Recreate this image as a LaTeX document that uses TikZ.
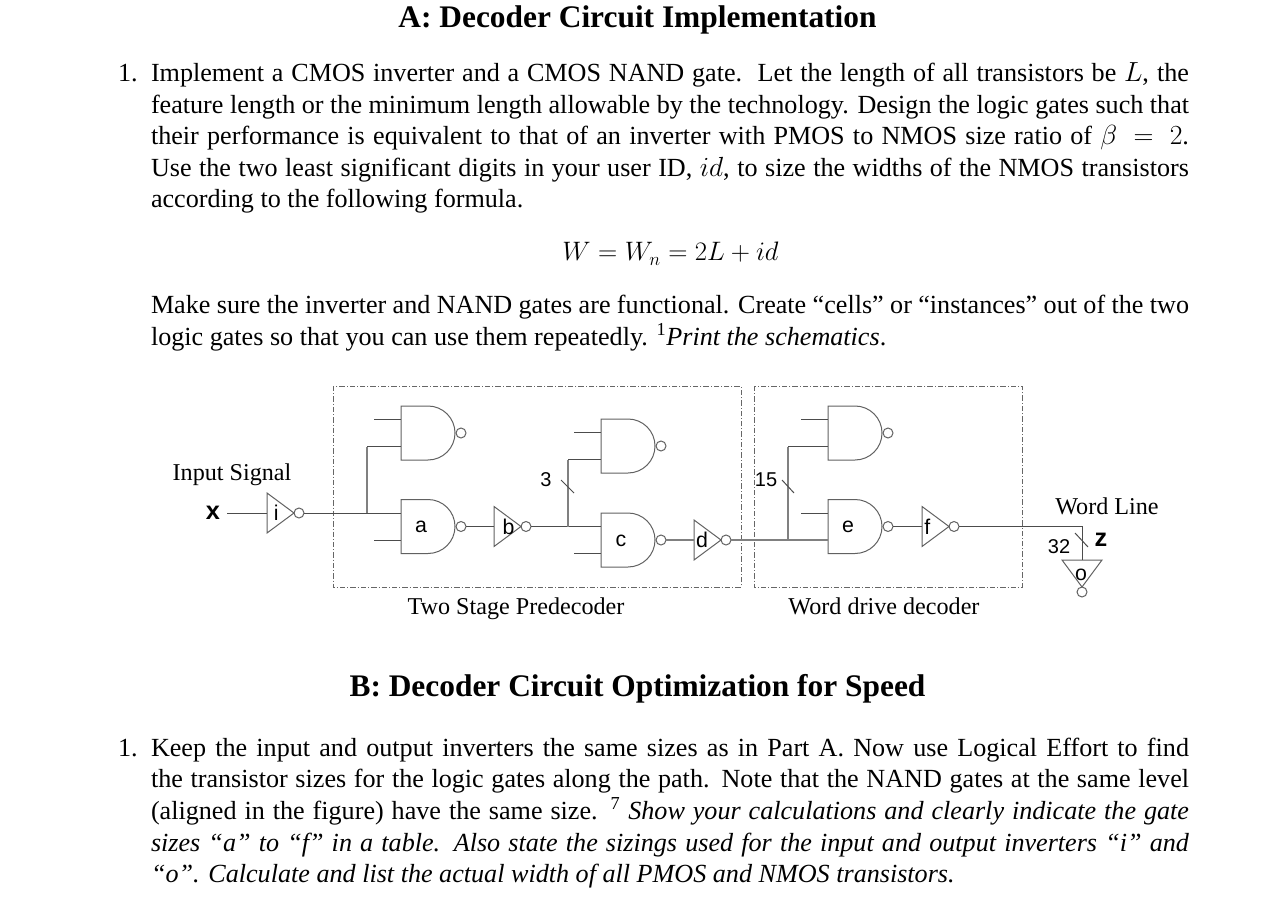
\documentclass[tikz,border=0pt]{standalone}
\usepackage{graphicx}
\usepackage{fontspec}
\setmainfont{Liberation Serif}
\newfontfamily\lsans{Liberation Sans}
\newcommand{\bodysz}{\fontsize{19.6pt}{23pt}\selectfont}
\newcommand{\jl}[1]{\makebox[778.5pt][s]{#1}}
\newcommand{\nandgate}[3]{%
  \begin{scope}[shift={(#2,#3)}]
    \draw[gateline] (0,0) -- (27,0) .. controls (41.9,0) and (54,12.1) .. (54,27)
      .. controls (54,41.9) and (41.9,54) .. (27,54) -- (0,54) -- cycle;
    \draw[gateline] (60,27) circle (5);
    \coordinate (#1-a) at (0,13.5);
    \coordinate (#1-b) at (0,40.5);
    \coordinate (#1-sa) at (-27,13.5);
    \coordinate (#1-sb) at (-27,40.5);
    \coordinate (#1-o) at (65,27);
    \coordinate (#1-c) at (20,27.5);
  \end{scope}}
\newcommand{\invgate}[3]{%
  \begin{scope}[shift={(#2,#3)}]
    \draw[gateline] (0,-20) -- (27,0) -- (0,20) -- cycle;
    \draw[gateline] (32,0) circle (5);
    \coordinate (#1-i) at (0,0);
    \coordinate (#1-o) at (37,0);
    \coordinate (#1-c) at (8,0);
  \end{scope}}
\tikzset{
  x=0.75pt,y=-0.75pt,
  gateline/.style={draw=black!62,line width=0.75pt},
  wire/.style={draw=black!70,line width=0.75pt},
  busw/.style={draw=black!50,line width=1.1pt},
  framebox/.style={draw=black!60,line width=0.7pt,dash pattern=on 4pt off 1.5pt on 0.8pt off 1.5pt},
  textline/.style={anchor=base west,inner sep=0pt,outer sep=0pt,font=\bodysz},
  titlet/.style={anchor=base,inner sep=0pt,font=\fontsize{23.55pt}{28pt}\selectfont\bfseries},
  label/.style={anchor=base,inner sep=0pt,font=\fontsize{18.1pt}{20pt}\selectfont},
  sanslbl/.style={inner sep=0pt,font=\fontsize{15pt}{17pt}\selectfont\lsans},
  gatelbl/.style={inner sep=0pt,font=\fontsize{16pt}{18pt}\selectfont\lsans},
  boldlbl/.style={inner sep=0pt,font=\fontsize{19pt}{21pt}\selectfont\lsans\bfseries},
}
\begin{document}
\begin{tikzpicture}
\useasboundingbox (0,0) rectangle (1267,909);
% ---- text ----
\node[titlet] (t1) at (637.5,27.5) {A: Decoder Circuit Implementation};
\node[textline] (n1) at (118,82) {1.};
\node[textline] (l1) at (151,82) {\jl{Implement a CMOS inverter and a CMOS NAND gate.\ \ Let the length of all transistors be $L$, the}};
\node[textline] (l2) at (151,113.5) {\jl{feature length or the minimum length allowable by the technology. Design the logic gates such that}};
\node[textline] (l3) at (151,145) {\jl{their performance is equivalent to that of an inverter with PMOS to NMOS size ratio of $\beta\,=\,2$.}};
\node[textline] (l4) at (151,176.5) {\jl{Use the two least significant digits in your user ID, $id$, to size the widths of the NMOS transistors}};
\node[textline] (l5) at (151,208) {according to the following formula.};
\node[textline,anchor=base] (eq) at (670.5,261) {\scalebox{0.965}{$W = W_n = 2L + id$}};
\node[textline] (l6) at (151,314) {\jl{Make sure the inverter and NAND gates are functional. Create “cells” or “instances” out of the two}};
\node[textline] (l7) at (151,345.5) {logic gates so that you can use them repeatedly. \textsuperscript{1}\textit{Print the schematics}.};
\node[titlet] (t2) at (637.5,696.5) {B: Decoder Circuit Optimization for Speed};
\node[textline] (n2) at (118,756) {1.};
\node[textline] (m1) at (151,756) {\jl{Keep the input and output inverters the same sizes as in Part A. Now use Logical Effort to find}};
\node[textline] (m2) at (151,787.5) {\jl{the transistor sizes for the logic gates along the path. Note that the NAND gates at the same level}};
\node[textline] (m3) at (151,819.5) {\jl{(aligned in the figure) have the same size. \textsuperscript{7} \textit{Show your calculations and clearly indicate the gate}}};
\node[textline] (m4) at (151,851) {\jl{\textit{sizes “a” to “f” in a table. Also state the sizings used for the input and output inverters “i” and}}};
\node[textline] (m5) at (151,882.5) {\textit{“o”. Calculate and list the actual width of all PMOS and NMOS transistors.}};
% ---- frames ----
\draw[framebox] (333,386) rectangle (741,587);
\draw[framebox] (754,386) rectangle (1022,587);
% ---- gates ----
\nandgate{ga}{401}{406}
\nandgate{a}{401}{499.5}
\nandgate{gc}{601}{419}
\nandgate{c}{601}{513}
\nandgate{ge}{828}{406}
\nandgate{e}{828}{499.5}
\invgate{i}{267}{513}
\invgate{b}{494}{526.5}
\invgate{d}{694}{540}
\invgate{f}{922}{526.5}
% output inverter
\draw[gateline] (1062,560) -- (1102,560) -- (1082,587) -- cycle;
\draw[gateline] (1082,592) circle (5);
\coordinate (o-i) at (1082,560);
\coordinate (xin) at (227,513);
\coordinate (j1) at (367,513);
\coordinate (j1t) at (367,446.5);
\coordinate (j2) at (568,526.5);
\coordinate (j2t) at (568,459.5);
\coordinate (j3) at (788,540);
\coordinate (j3t) at (788,446.5);
\coordinate (bend) at (1082,526.5);
% ---- connectors ----
\draw[wire] (xin) -- (i-i);
\draw[wire] (i-o) -- (a-a);
\draw[busw] (j1) -- (j1t);
\draw[wire] (j1t) -- (ga-b);
\draw[wire] (ga-sa) -- (ga-a);
\draw[wire] (a-sb) -- (a-b);
\draw[wire] (a-o) -- (b-i);
\draw[wire] (b-o) -- (c-a);
\draw[busw] (j2) -- (j2t);
\draw[wire] (j2t) -- (gc-b);
\draw[wire] (gc-sa) -- (gc-a);
\draw[wire] (c-sb) -- (c-b);
\draw[busw] (c-o) -- (d-i);
\draw[busw] (d-o) -- (e-b);
\draw[busw] (j3) -- (j3t);
\draw[wire] (j3t) -- (ge-b);
\draw[wire] (ge-sa) -- (ge-a);
\draw[wire] (e-sa) -- (e-a);
\draw[wire] (e-o) -- (f-i);
\draw[wire] (f-o) -- (bend) -- (o-i);
% ---- bus slashes ----
\coordinate (s1a) at (561,480); \coordinate (s1b) at (574,493);
\coordinate (s2a) at (782,480); \coordinate (s2b) at (794,493);
\coordinate (s3a) at (1075,533); \coordinate (s3b) at (1088,547);
\draw[wire] (s1a) -- (s1b);
\draw[wire] (s2a) -- (s2b);
\draw[wire] (s3a) -- (s3b);
% ---- labels ----
\node[label] (li) at (232,480) {Input Signal};
\node[label] (lw) at (1107,514) {Word Line};
\node[label] (lp) at (516,614) {Two Stage Predecoder};
\node[label] (ld) at (884,614) {Word drive decoder};
\node[boldlbl] (lx) at (213,513) {x};
\node[boldlbl] (lz) at (1101,540) {z};
\node[gatelbl] (ti) at ([xshift=1]i-c) {i};
\node[gatelbl] (ta) at (a-c) {a};
\node[gatelbl] (tb) at ([xshift=5]b-c) {b};
\node[gatelbl] (tc) at (c-c) {c};
\node[gatelbl] (td) at (d-c) {d};
\node[gatelbl] (te) at (e-c) {e};
\node[gatelbl] (tf) at ([xshift=-2]f-c) {f};
\node[gatelbl] (lo) at (1081,575) {o};
\node[sanslbl] (n3) at (546,480) {3};
\node[sanslbl] (n15) at (766,480) {15};
\node[sanslbl] (n32) at (1059,547) {32};
\end{tikzpicture}
\end{document}
